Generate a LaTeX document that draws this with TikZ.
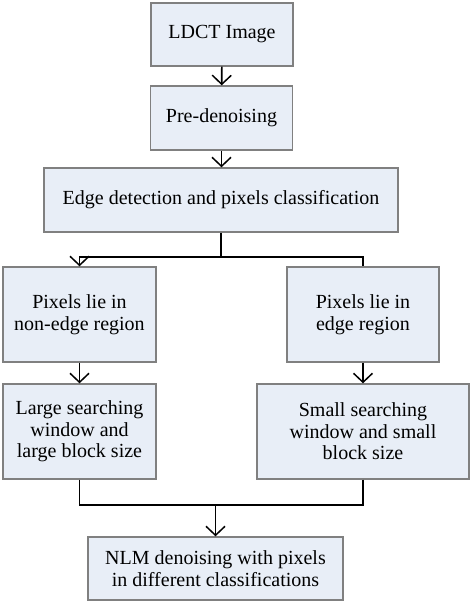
\documentclass[tikz,border=0pt]{standalone}
\usepackage{fontspec}
\setmainfont{Liberation Serif}
\usetikzlibrary{arrows.meta}
\definecolor{boxfill}{RGB}{232,238,247}
\definecolor{boxline}{RGB}{128,128,128}
\tikzset{
  stepbox/.style={draw=boxline,line width=1.4pt,fill=boxfill,align=center,
    inner sep=0pt,font=\fontsize{20}{21.5}\selectfont},
  arr/.style={-{Straight Barb[length=9pt,width=19pt,line width=1.5pt]}},
  link/.style={line width=1.6pt,black}
}
\begin{document}
\begin{tikzpicture}[x=1pt,y=-1pt]
\useasboundingbox (0,0) rectangle (474,605);
\node[stepbox,minimum width=142pt,minimum height=63pt](ldct) at (222,34.5){LDCT Image};
\node[stepbox,minimum width=142pt,minimum height=64pt](pre) at (221.5,118){Pre-denoising};
\node[stepbox,minimum width=354pt,minimum height=64pt](edge) at (221,200){Edge detection and pixels classification};
\node[stepbox,minimum width=153pt,minimum height=95pt](nonedge) at (79.5,314.5){Pixels lie in\\non-edge region};
\node[stepbox,minimum width=152pt,minimum height=95pt](edgereg) at (363,314.5){Pixels lie in\\edge region};
\node[stepbox,minimum width=153pt,minimum height=95pt](large) at (79.5,431.5){Large searching\\window and\\large block size};
\node[stepbox,minimum width=212pt,minimum height=95pt](small) at (363,431.5){Small searching\\window and small\\block size};
\node[stepbox,minimum width=255pt,minimum height=63pt](nlm) at (215.5,568.5){NLM denoising with pixels\\in different classifications};
\coordinate (split) at (221,257);
\coordinate (merge) at (215.5,505);
% connectors
\draw[link,arr] (ldct) -- (pre);
\draw[link,arr] (pre.south) -- (pre.south|-edge.north);
\draw[link] (edge.south) -- (split);
\draw[link,arr] (split) -| (nonedge.north);
\draw[link] (split) -| (edgereg.north);
\draw[link,arr] (nonedge) -- (large);
\draw[link,arr] (edgereg) -- (small);
\draw[link] (large.south) |- (merge);
\draw[link] (small.south) |- (merge);
\draw[link,arr] (merge) -- (nlm);
\end{tikzpicture}
\end{document}
